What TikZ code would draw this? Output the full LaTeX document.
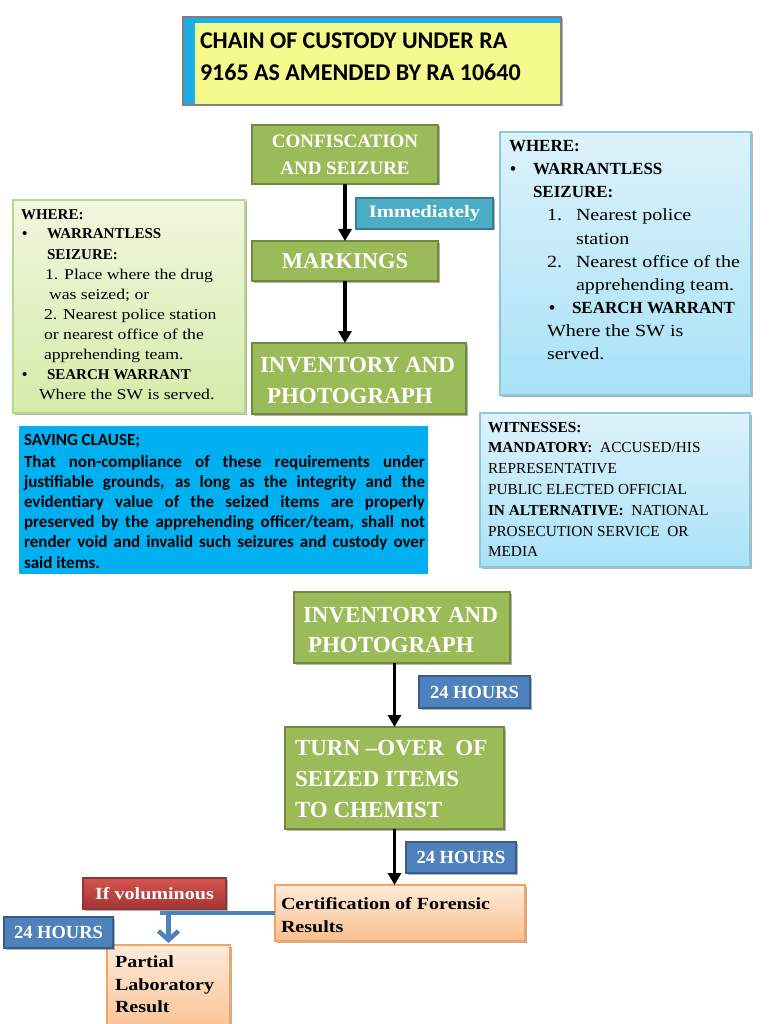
\documentclass[tikz,border=0pt]{standalone}
\usepackage{fontspec}
\setmainfont{Liberation Serif}
\newfontfamily\wideserif{Liberation Serif}[FakeStretch=1.18]
\newfontfamily\calfont{Carlito}
\usetikzlibrary{arrows.meta,shadows}
\definecolor{grn}{HTML}{9BBB59}
\definecolor{grnd}{HTML}{71893F}
\definecolor{imm}{HTML}{4BACC6}
\definecolor{immd}{HTML}{357D91}
\definecolor{hrs}{HTML}{4F81BD}
\definecolor{hrsd}{HTML}{385D8A}
\definecolor{ttlyel}{HTML}{F4F98C}
\definecolor{ttlblue}{HTML}{1CADE4}
\definecolor{saveblue}{HTML}{00B0F0}
\definecolor{lgtop}{HTML}{F0F7DF}
\definecolor{lgbot}{HTML}{D6EBAA}
\definecolor{lgbrd}{HTML}{B9D68A}
\definecolor{lbtop}{HTML}{DDF2FB}
\definecolor{lbbot}{HTML}{A8E2F7}
\definecolor{lbbrd}{HTML}{8CC8DC}
\definecolor{ortop}{HTML}{FDEADA}
\definecolor{orbot}{HTML}{FAC090}
\definecolor{orbrd}{HTML}{F7A25E}
\definecolor{redtop}{HTML}{D55450}
\definecolor{redbot}{HTML}{A33532}
\definecolor{redbrd}{HTML}{8C3836}
\begin{document}
\begin{tikzpicture}[x=1pt,y=-1pt,
  shad/.style={drop shadow={shadow xshift=1.5pt,shadow yshift=-1.5pt,opacity=0.3,fill=black}},
  box/.style={draw,line width=1.2pt,inner sep=0pt,outer sep=0pt},
  greenbox/.style={box,shad,fill=grn,draw=grnd,text=white},
  immbox/.style={box,shad,fill=imm,draw=immd,text=white},
  hrbox/.style={box,shad,fill=hrs,draw=hrsd,text=white,font=\bfseries\fontsize{18.5}{22}\selectfont},
  lgbox/.style={box,shad,top color=lgtop,bottom color=lgbot,draw=lgbrd},
  lbbox/.style={box,shad,top color=lbtop,bottom color=lbbot,draw=lbbrd},
  orbox/.style={box,shad,top color=ortop,bottom color=orbot,draw=orbrd},
  redbox/.style={box,shad,top color=redtop,bottom color=redbot,draw=redbrd,text=white},
  ln/.style={anchor=base west,inner sep=0pt,outer sep=0pt},
  bigw/.style={ln,text=white,font=\bfseries\fontsize{23}{27}\selectfont},
  blk/.style={line width=3.5pt,-{Triangle[width=13pt,length=12pt]}},
  blueln/.style={line width=4.5pt,draw=hrs},
  bluearr/.style={line width=4.5pt,draw=hrs,-{Straight Barb[width=20pt,length=9pt]}}
]
\useasboundingbox (0,0) rectangle (768,1024);
\fill[white] (0,0) rectangle (768,1024);

% title
\node[box,shad,fill=ttlyel,draw=gray,minimum width=378pt,minimum height=88pt] (title) at (372,61) {};
\fill[ttlblue] (title.north west) rectangle ([xshift=12pt]title.south west);
\fill[ttlblue] (title.north west) rectangle ([yshift=-6pt]title.north east);
\draw[gray,line width=1.2pt] (title.north west) rectangle (title.south east);
\node[ln,font=\calfont\bfseries\fontsize{24}{28}\selectfont] (t1) at (200,49) {CHAIN OF CUSTODY UNDER RA};
\node[ln,font=\calfont\bfseries\fontsize{24}{28}\selectfont] (t2) at (200,81) {9165 AS AMENDED BY RA 10640};

% top flow
\node[greenbox,minimum width=186pt,minimum height=59pt,align=center,font=\bfseries\fontsize{19}{27}\selectfont] (conf) at (345,154.5) {CONFISCATION\\AND SEIZURE};
\node[immbox,minimum width=137pt,minimum height=31pt,font=\wideserif\bfseries\fontsize{17.5}{20}\selectfont] (imm) at (424.5,213.5) {Immediately};
\node[greenbox,minimum width=186pt,minimum height=40pt,font=\bfseries\fontsize{22.5}{27}\selectfont] (mark) at (345,261) {MARKINGS};
\node[greenbox,minimum width=214pt,minimum height=71pt] (inv1) at (359,378.5) {};
\node[bigw] (inv1a) at (260,372) {INVENTORY AND};
\node[bigw] (inv1b) at (267,403) {PHOTOGRAPH};
\draw[blk] (conf.south) -- (mark.north);
\draw[blk] (mark.south) -- (mark.south |- inv1.north);

% left box
\node[lgbox,minimum width=232pt,minimum height=213pt] (lb) at (129,306.5) {};
\begin{scope}[every node/.append style={ln,font=\fontsize{15}{18}\selectfont}]
\node (l0) at (21,219) {\bfseries WHERE:};
\node (l1b) at (22,239) {\bfseries •};
\node (l1) at (47,239) {\bfseries WARRANTLESS};
\node (l2) at (47,259) {\bfseries SEIZURE:};
\node (l3) at (45,279) {\wideserif 1. Place where the drug};
\node (l4) at (49,299) {\wideserif was seized; or};
\node (l5) at (44,319) {\wideserif 2. Nearest police station};
\node (l6) at (44,339) {\wideserif or nearest office of the};
\node (l7) at (44,359) {\wideserif apprehending team.};
\node (l8b) at (22,379) {\bfseries •};
\node (l8) at (47,379) {\bfseries SEARCH WARRANT};
\node (l9) at (39,399) {\wideserif Where the SW is served.};
\end{scope}

% right box
\node[lbbox,minimum width=251pt,minimum height=263pt] (rb) at (625.5,263.5) {};
\begin{scope}[every node/.append style={ln,font=\fontsize{17}{20}\selectfont}]
\node (r0) at (509,152) {\bfseries WHERE:};
\node (r1b) at (510,175) {\bfseries •};
\node (r1) at (533,175) {\bfseries WARRANTLESS};
\node (r2) at (533,198) {\bfseries SEIZURE:};
\node (r3n) at (547,221) {\wideserif 1.};
\node (r3) at (576,221) {\wideserif Nearest police};
\node (r4) at (576,244) {\wideserif station};
\node (r5n) at (547,267) {\wideserif 2.};
\node (r5) at (576,267) {\wideserif Nearest office of the};
\node (r6) at (576,290) {\wideserif apprehending team.};
\node (r7b) at (549,313) {\bfseries •};
\node (r7) at (572,313) {\bfseries SEARCH WARRANT};
\node (r8) at (547,336) {\wideserif Where the SW is};
\node (r9) at (547,359) {\wideserif served.};
\end{scope}

% saving clause
\node[box,draw=none,fill=saveblue,minimum width=409pt,minimum height=148pt] (sc) at (223.5,500) {};
\begin{scope}[every node/.append style={ln,font=\calfont\bfseries\fontsize{17}{18}\selectfont}]
\node (s0) at (24,445) {SAVING CLAUSE;};
\node (s1) at (24,467) {\makebox[401pt][s]{That non-compliance of these requirements under}};
\node (s2) at (24,487) {\makebox[401pt][s]{justifiable grounds, as long as the integrity and the}};
\node (s3) at (24,507) {\makebox[401pt][s]{evidentiary value of the seized items are properly}};
\node (s4) at (24,527) {\makebox[401pt][s]{preserved by the apprehending officer/team, shall not}};
\node (s5) at (24,547) {\makebox[401pt][s]{render void and invalid such seizures and custody over}};
\node (s6) at (24,568) {said items.};
\end{scope}

% witnesses
\node[lbbox,minimum width=270pt,minimum height=154pt] (wb) at (615,490) {};
\begin{scope}[every node/.append style={ln,font=\fontsize{15.3}{18}\selectfont}]
\node (w0) at (488,432) {\bfseries WITNESSES:};
\node (w1) at (488,452.8) {\textbf{MANDATORY:}\ \ ACCUSED/HIS};
\node (w2) at (488,473.6) {REPRESENTATIVE};
\node (w3) at (488,494.4) {PUBLIC ELECTED OFFICIAL};
\node (w4) at (488,515.2) {\textbf{IN ALTERNATIVE:}\ \ NATIONAL};
\node (w5) at (488,536) {PROSECUTION SERVICE\ \ OR};
\node (w6) at (488,556.8) {MEDIA};
\end{scope}

% lower flow
\node[greenbox,minimum width=216pt,minimum height=71pt] (inv2) at (402,627.5) {};
\node[bigw] (inv2a) at (303,622) {INVENTORY AND};
\node[bigw] (inv2b) at (308,652) {PHOTOGRAPH};
\node[hrbox,minimum width=111pt,minimum height=32pt] (h1) at (474.5,692) {24 HOURS};
\node[greenbox,minimum width=219pt,minimum height=102pt] (turn) at (394.5,778) {};
\node[bigw] (turna) at (295,755) {TURN –OVER\ \ OF};
\node[bigw] (turnb) at (295,786) {SEIZED ITEMS};
\node[bigw] (turnc) at (295,817) {TO CHEMIST};
\draw[blk] (turn.north |- inv2.south) -- (turn.north);

\node[hrbox,minimum width=110pt,minimum height=31pt] (h2) at (461,857.5) {24 HOURS};
\node[orbox,minimum width=250pt,minimum height=56pt] (cert) at (400,913) {};
\node[ln,font=\wideserif\bfseries\fontsize{17}{20}\selectfont] (certa) at (281,909) {Certification of Forensic};
\node[ln,font=\wideserif\bfseries\fontsize{17}{20}\selectfont] (certb) at (281,932) {Results};
\draw[blk] (turn.south) -- (turn.south |- cert.north);

\node[redbox,minimum width=143pt,minimum height=31pt,font=\wideserif\bfseries\fontsize{17}{20}\selectfont] (vol) at (154.5,893.5) {If voluminous};
\node[orbox,minimum width=123pt,minimum height=90pt] (part) at (168.5,990) {};
\node[ln,font=\wideserif\bfseries\fontsize{17}{20}\selectfont] (parta) at (115,967) {Partial};
\node[ln,font=\wideserif\bfseries\fontsize{17}{20}\selectfont] (partb) at (115,990) {Laboratory};
\node[ln,font=\wideserif\bfseries\fontsize{17}{20}\selectfont] (partc) at (115,1012) {Result};
\node[hrbox,minimum width=109pt,minimum height=31pt] (h3) at (58.5,932.5) {24 HOURS};
\coordinate (jl) at (160,913);
\coordinate (jv) at (168.5,913);
\draw[blueln] (cert.west) -- (jl);
\draw[bluearr] (jv) -- ([yshift=2pt]part.north);
\end{tikzpicture}
\end{document}
